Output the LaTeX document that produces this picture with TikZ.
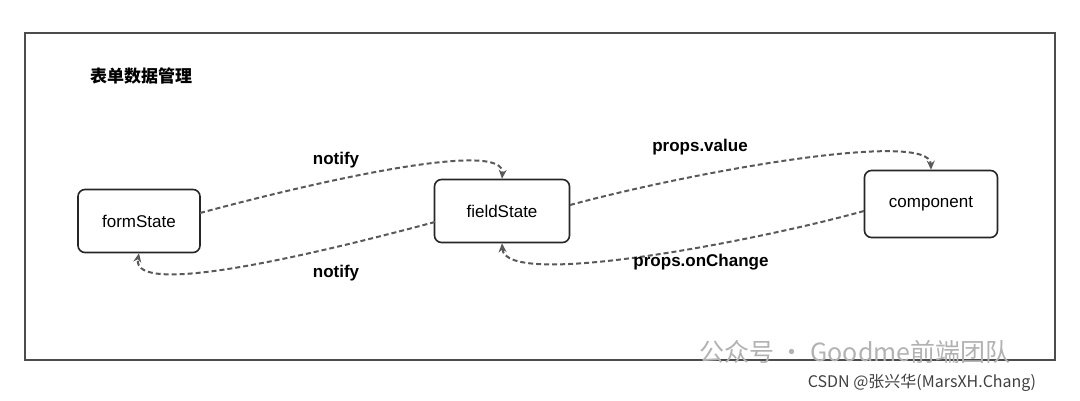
\documentclass[tikz,border=0pt]{standalone}
\usepackage{fontspec}
\setmainfont{Liberation Sans}
\newfontfamily\cjk{Noto Sans CJK SC}
\usetikzlibrary{arrows.meta}
\begin{document}
\begin{tikzpicture}[x=1pt,y=-1pt,
  box/.style={draw=black!85,line width=1.6pt,rounded corners=7pt,minimum width=122pt,minimum height=63pt,font=\fontsize{17}{19}\selectfont},
  lbl/.style={font=\bfseries\fontsize{17}{19}\selectfont},
  con/.style={draw=black!65,line width=2pt,dash pattern=on 5pt off 3pt,-{Stealth[length=9pt,width=8pt]}}]
\useasboundingbox (0,0) rectangle (1080,401);
\draw[black!70,line width=1.6pt] (25,33) rectangle (1055,360);
\node[font=\cjk\bfseries\fontsize{17}{19}\selectfont] (t) at (141,76) {表单数据管理};
\node[box] (f) at (139,221) {formState};
\node[box,minimum width=135pt] (s) at (502,211) {fieldState};
\node[box,minimum width=133pt,minimum height=67pt] (c) at (931,204) {component};
\coordinate (fr) at (200,213);
\coordinate (sl) at (435,222);
\coordinate (sr) at (570,205);
\coordinate (cl) at (864,211);
\draw[con] (fr) .. controls (330,178) and (505,140) .. (s.north);
\draw[con] (sl) .. controls (330,250) and (130,300) .. (f.south);
\draw[con] (sr) .. controls (700,170) and (930,130) .. (c.north);
\draw[con] (cl) .. controls (760,240) and (505,290) .. (s.south);
\node[lbl] (n1) at (336,160) {notify};
\node[lbl] (n2) at (336,273) {notify};
\node[lbl] (p1) at (700,147) {props.value};
\node[lbl] (p2) at (701,262) {props.onChange};
\node[font=\cjk\fontsize{25}{27}\selectfont,text=black!30] (w1) at (855,352) {公众号 · Goodme前端团队};
\node[font=\cjk\fontsize{16}{18}\selectfont,text=black!75] (w2) at (922,383) {CSDN @张兴华(MarsXH.Chang)};
\end{tikzpicture}
\end{document}
